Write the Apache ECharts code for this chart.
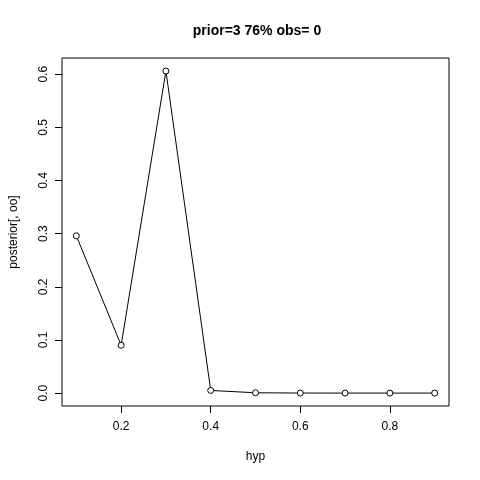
<!DOCTYPE html>
<html>
<head>
<meta charset="utf-8">
<script src="https://cdn.jsdelivr.net/npm/echarts@6/dist/echarts.min.js"></script>
<style>
  html, body { margin: 0; padding: 0; background: #fff; }
  #chart { width: 480px; height: 480px; }
</style>
</head>
<body>
<div id="chart"></div>
<script>
// data
var hyp = [0.1, 0.2, 0.3, 0.4, 0.5, 0.6, 0.7, 0.8, 0.9];
var posterior = [0.296, 0.090, 0.606, 0.005, 0.0006, 0.0001, 0.0, 0.0, 0.0];
var xTicks = [0.2, 0.4, 0.6, 0.8];
var yTicks = [0.0, 0.1, 0.2, 0.3, 0.4, 0.5, 0.6];

// R pads the data range by 4%
var xMin = 0.068, xMax = 0.932;
var yMin = -0.0243, yMax = 0.6305;

var points = hyp.map(function (h, i) { return [h, posterior[i]]; });
var font = "Liberation Sans";

var chart = echarts.init(document.getElementById("chart"));
chart.setOption({
  animation: false,
  title: {
    text: "prior=3 76% obs= 0",
    left: 252,
    top: 19,
    textAlign: "center",
    textStyle: { fontFamily: font, fontSize: 14, fontWeight: "bold", color: "#000" }
  },
  grid: {
    left: 59, right: 31, top: 58, bottom: 74,
    show: true, borderColor: "#000", borderWidth: 1, backgroundColor: "transparent"
  },
  xAxis: {
    type: "value",
    min: xMin, max: xMax,
    name: "hyp",
    nameLocation: "middle",
    nameGap: 45,
    nameTextStyle: { fontFamily: font, fontSize: 12, color: "#000" },
    axisLine: { show: false, onZero: false },
    splitLine: { show: false },
    axisTick: { show: true, inside: false, length: 7, lineStyle: { color: "#000" }, customValues: xTicks },
    axisLabel: {
      fontFamily: font, fontSize: 12, color: "#000", margin: 15,
      customValues: xTicks,
      formatter: function (v) { return v.toFixed(1); }
    }
  },
  yAxis: {
    type: "value",
    min: yMin, max: yMax,
    name: "posterior[, oo]",
    nameLocation: "middle",
    nameGap: 42,
    nameTextStyle: { fontFamily: font, fontSize: 12, color: "#000" },
    axisLine: { show: false, onZero: false },
    splitLine: { show: false },
    axisTick: { show: true, inside: false, length: 7, lineStyle: { color: "#000" }, customValues: yTicks },
    axisLabel: {
      fontFamily: font, fontSize: 12, color: "#000", margin: 12, rotate: 90,
      customValues: yTicks,
      formatter: function (v) { return v.toFixed(1); }
    }
  },
  series: [{
    type: "line",
    data: points,
    symbol: "circle",
    symbolSize: 6,
    showAllSymbol: true,
    lineStyle: { color: "#000", width: 1 },
    itemStyle: { color: "#fff", borderColor: "#000", borderWidth: 1 }
  }]
});
</script>
</body>
</html>
